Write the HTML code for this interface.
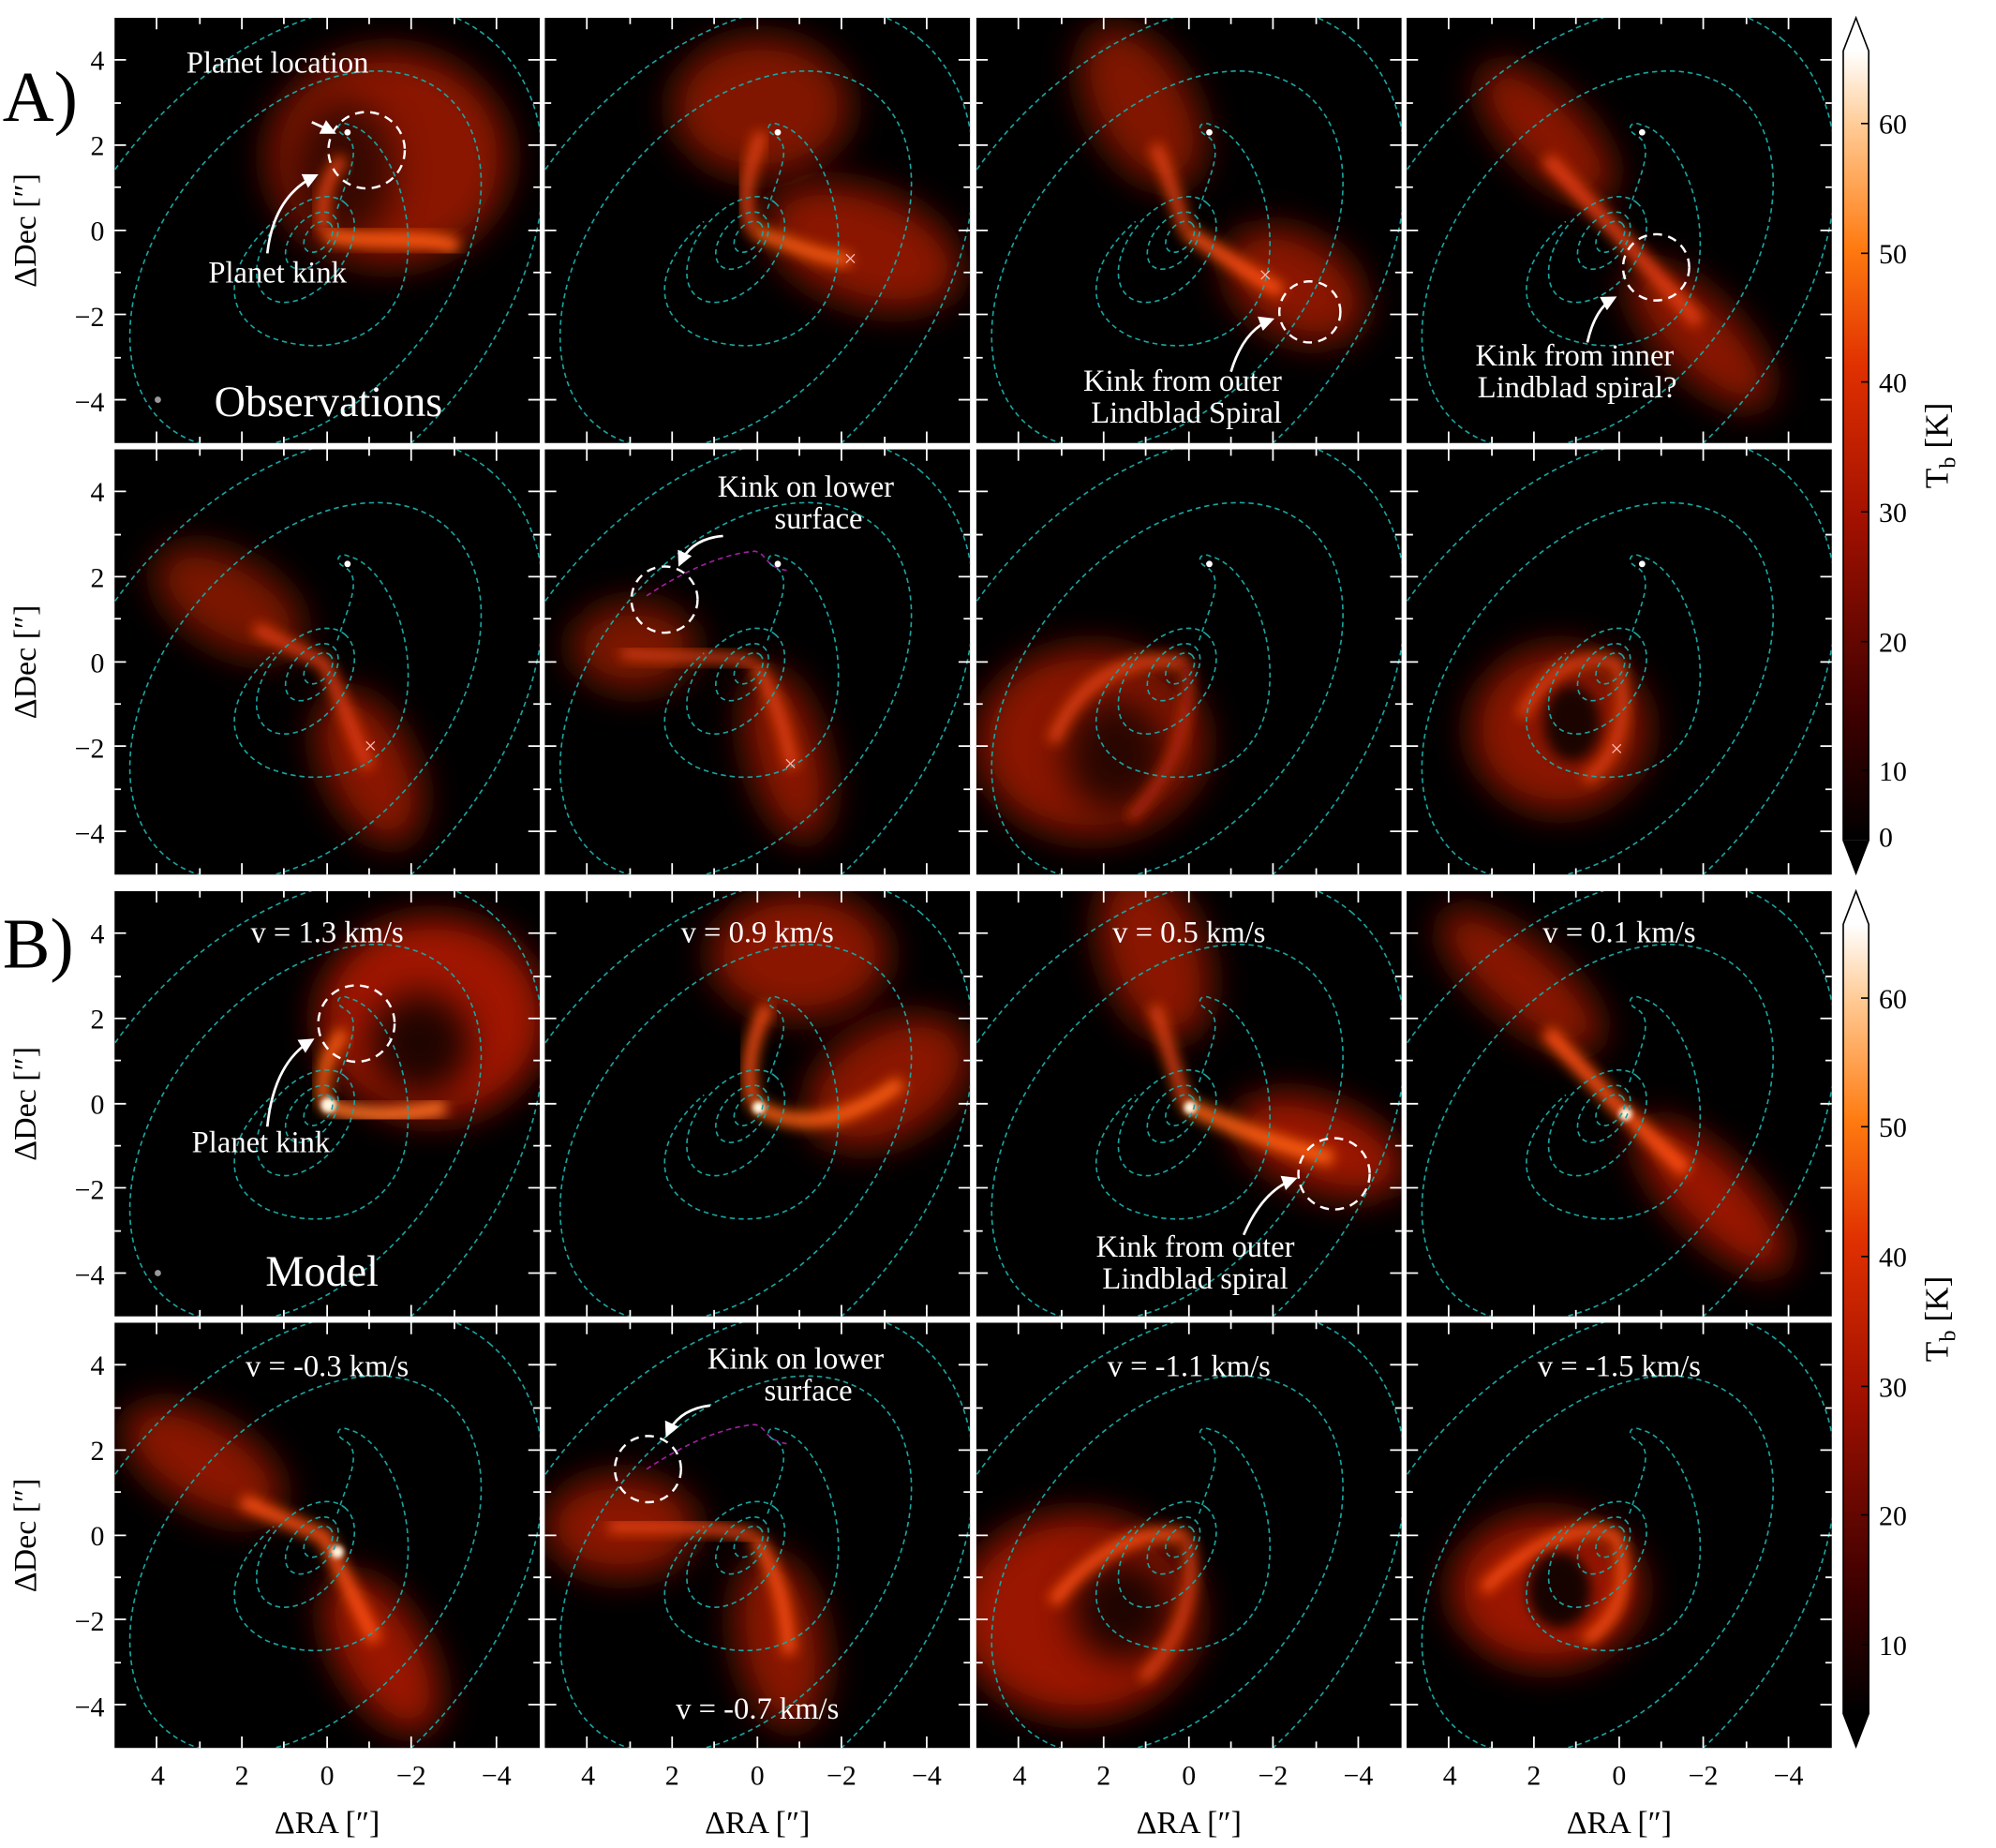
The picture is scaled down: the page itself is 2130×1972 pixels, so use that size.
<!DOCTYPE html>
<html><head><meta charset="utf-8"><style>
html,body{margin:0;padding:0;background:#fff;width:2130px;height:1972px;overflow:hidden}
svg{display:block}
text{font-family:"Liberation Serif","DejaVu Serif",serif;}
</style></head><body>
<svg width="2130" height="1972" viewBox="0 0 1568 1451.6" preserveAspectRatio="none" xmlns="http://www.w3.org/2000/svg">
<defs>
<filter id="b1" x="-50%" y="-50%" width="200%" height="200%"><feGaussianBlur stdDeviation="14"/></filter>
<filter id="b2" x="-50%" y="-50%" width="200%" height="200%"><feGaussianBlur stdDeviation="5"/></filter>
<filter id="b3" x="-50%" y="-50%" width="200%" height="200%"><feGaussianBlur stdDeviation="2"/></filter>
<clipPath id="pc"><rect x="0" y="0" width="334" height="334"/></clipPath>
<marker id="ah" viewBox="0 0 10 10" refX="8" refY="5" markerWidth="6" markerHeight="6" orient="auto"><path d="M0,0 L10,5 L0,10 Z" fill="#fff"/></marker>
<linearGradient id="cb" x1="0" y1="1" x2="0" y2="0">
<stop offset="0" stop-color="#000"/><stop offset="0.15" stop-color="#3a0000"/><stop offset="0.4" stop-color="#a01000"/>
<stop offset="0.6" stop-color="#e03000"/><stop offset="0.75" stop-color="#ff7a10"/><stop offset="0.9" stop-color="#ffc890"/><stop offset="1" stop-color="#fff"/>
</linearGradient>
<g id="cont" fill="none" stroke="#1aa5a0" stroke-width="1.2" stroke-dasharray="4,3">
<ellipse cx="160" cy="172" rx="14" ry="9" transform="rotate(-50 160 172)"/>
<ellipse cx="155" cy="175" rx="26" ry="16" transform="rotate(-50 155 175)"/>
<ellipse cx="150" cy="182" rx="48" ry="30" transform="rotate(-50 150 182)"/>
<path d="M175,150 C185,120 195,100 180,92 C172,88 176,80 184,84 C210,90 235,140 230,190 C225,250 170,270 120,250 C80,230 90,190 125,160"/>
<ellipse cx="150" cy="190" rx="170" ry="110" transform="rotate(-50 150 190)"/>
<ellipse cx="140" cy="200" rx="240" ry="160" transform="rotate(-50 140 200)"/>
</g>
<g id="ticks" stroke="#fff" stroke-width="1.3">
<path d="M33,0v9M100,0v9M167,0v9M233,0v9M300,0v9M67,0v5M133,0v5M200,0v5M267,0v5
M33,334v-9M100,334v-9M167,334v-9M233,334v-9M300,334v-9M67,334v-5M133,334v-5M200,334v-5M267,334v-5
M0,33h9M0,100h9M0,167h9M0,233h9M0,300h9M0,67h5M0,133h5M0,200h5M0,267h5
M334,33h-9M334,100h-9M334,167h-9M334,233h-9M334,300h-9M334,67h-5M334,133h-5M334,200h-5M334,267h-5"/>
</g>
</defs>

<g transform="translate(90,14)"><rect width="334" height="334" fill="#000"/><g clip-path="url(#pc)">
<ellipse cx="215" cy="110" rx="95" ry="85" fill="#8a1400" filter="url(#b1)"/>
<ellipse cx="180" cy="120" rx="40" ry="55" fill="#000" filter="url(#b1)" opacity="0.6"/>
<path d="M165,170 C200,178 240,170 270,180" stroke="#ff5a10" stroke-width="12" fill="none" filter="url(#b2)"/>
<path d="M165,168 C160,140 170,120 180,110" stroke="#e04010" stroke-width="10" fill="none" filter="url(#b2)"/>
<use href="#cont"/></g><use href="#ticks"/>
<circle cx="183" cy="90" r="2.5" fill="#fff"/><circle cx="34" cy="300" r="2.5" fill="#999"/>
<circle cx="198" cy="104" r="30" fill="none" stroke="#fff" stroke-width="1.8" stroke-dasharray="7,5"/>
<path d="M155,82 Q166,87 172,90" stroke="#fff" stroke-width="2" fill="none" marker-end="url(#ah)"/>
<path d="M120,185 Q125,140 158,124" stroke="#fff" stroke-width="2" fill="none" marker-end="url(#ah)"/>
<text x="128" y="43" fill="#fff" font-size="24" text-anchor="middle">Planet location</text>
<text x="128" y="208" fill="#fff" font-size="24" text-anchor="middle">Planet kink</text>
<text x="168" y="313" fill="#fff" font-size="34" text-anchor="middle">Observations</text></g>

<g transform="translate(428,14)"><rect width="334" height="334" fill="#000"/><g clip-path="url(#pc)">
<ellipse cx="170" cy="70" rx="70" ry="55" fill="#801200" filter="url(#b1)"/>
<ellipse cx="250" cy="180" rx="80" ry="45" fill="#8a1400" filter="url(#b1)" transform="rotate(20 250 180)"/>
<path d="M165,168 C150,140 165,110 170,90" stroke="#e04010" stroke-width="10" fill="none" filter="url(#b2)"/>
<path d="M165,168 C200,180 220,190 240,190" stroke="#ff6010" stroke-width="10" fill="none" filter="url(#b2)"/>
<use href="#cont"/></g><use href="#ticks"/>
<circle cx="183" cy="90" r="2.5" fill="#fff"/><text x="240" y="195" fill="#fbb" font-size="18" text-anchor="middle">×</text></g>

<g transform="translate(767,14)"><rect width="334" height="334" fill="#000"/><g clip-path="url(#pc)">
<ellipse cx="130" cy="70" rx="40" ry="70" fill="#801200" filter="url(#b1)" transform="rotate(-30 130 70)"/>
<ellipse cx="250" cy="210" rx="60" ry="40" fill="#8a1400" filter="url(#b1)" transform="rotate(30 250 210)"/>
<path d="M165,168 C155,140 150,120 140,100" stroke="#e04010" stroke-width="10" fill="none" filter="url(#b2)"/>
<path d="M165,168 C200,190 220,205 240,215" stroke="#ff5010" stroke-width="11" fill="none" filter="url(#b2)"/>
<use href="#cont"/></g><use href="#ticks"/>
<circle cx="183" cy="90" r="2.5" fill="#fff"/><text x="227" y="208" fill="#fbb" font-size="18" text-anchor="middle">×</text>
<circle cx="262" cy="231" r="24" fill="none" stroke="#fff" stroke-width="1.8" stroke-dasharray="7,5"/>
<path d="M200,278 Q210,245 232,237" stroke="#fff" stroke-width="2" fill="none" marker-end="url(#ah)"/>
<text x="162" y="293" fill="#fff" font-size="24" text-anchor="middle">Kink from outer</text>
<text x="165" y="318" fill="#fff" font-size="24" text-anchor="middle">Lindblad Spiral</text></g>

<g transform="translate(1105,14)"><rect width="334" height="334" fill="#000"/><g clip-path="url(#pc)">
<ellipse cx="110" cy="90" rx="30" ry="70" fill="#8a1400" filter="url(#b1)" transform="rotate(-45 110 90)"/>
<ellipse cx="230" cy="250" rx="30" ry="75" fill="#8a1400" filter="url(#b1)" transform="rotate(-45 230 250)"/>
<path d="M110,110 L165,168 L230,240" stroke="#e03a10" stroke-width="12" fill="none" filter="url(#b2)"/>
<use href="#cont"/></g><use href="#ticks"/>
<circle cx="185" cy="90" r="2.5" fill="#fff"/>
<circle cx="196" cy="196" r="26" fill="none" stroke="#fff" stroke-width="1.8" stroke-dasharray="7,5"/>
<path d="M142,255 Q148,228 163,220" stroke="#fff" stroke-width="2" fill="none" marker-end="url(#ah)"/>
<text x="132" y="273" fill="#fff" font-size="24" text-anchor="middle">Kink from inner</text>
<text x="134" y="298" fill="#fff" font-size="24" text-anchor="middle">Lindblad spiral?</text></g>

<g transform="translate(90,353)"><rect width="334" height="334" fill="#000"/><g clip-path="url(#pc)">
<ellipse cx="90" cy="120" rx="35" ry="65" fill="#7a1200" filter="url(#b1)" transform="rotate(-60 90 120)"/>
<ellipse cx="200" cy="250" rx="35" ry="65" fill="#8a1400" filter="url(#b1)" transform="rotate(-25 200 250)"/>
<path d="M110,140 L165,168 C180,200 190,230 200,250" stroke="#e03a10" stroke-width="10" fill="none" filter="url(#b2)"/>
<use href="#cont"/></g><use href="#ticks"/>
<circle cx="183" cy="90" r="2.5" fill="#fff"/><text x="201" y="239" fill="#fbb" font-size="18" text-anchor="middle">×</text></g>

<g transform="translate(428,353)"><rect width="334" height="334" fill="#000"/><g clip-path="url(#pc)">
<ellipse cx="70" cy="155" rx="50" ry="35" fill="#7a1200" filter="url(#b1)"/>
<ellipse cx="190" cy="240" rx="30" ry="70" fill="#8a1400" filter="url(#b1)" transform="rotate(-15 190 240)"/>
<path d="M60,160 C110,165 140,160 165,168" stroke="#d03a10" stroke-width="9" fill="none" filter="url(#b2)"/>
<path d="M165,168 C185,200 190,230 195,250" stroke="#e04010" stroke-width="10" fill="none" filter="url(#b2)"/>
<path d="M80,115 C110,95 140,82 165,80 C175,82 172,92 190,95" stroke="#a020a0" stroke-width="1.2" stroke-dasharray="4,3" fill="none"/>
<use href="#cont"/></g><use href="#ticks"/>
<circle cx="183" cy="90" r="2.5" fill="#fff"/><text x="193" y="253" fill="#fbb" font-size="18" text-anchor="middle">×</text>
<circle cx="94" cy="118" r="26" fill="none" stroke="#fff" stroke-width="1.8" stroke-dasharray="7,5"/>
<path d="M140,68 Q115,70 106,90" stroke="#fff" stroke-width="2" fill="none" marker-end="url(#ah)"/>
<text x="205" y="37" fill="#fff" font-size="24" text-anchor="middle">Kink on lower</text>
<text x="215" y="62" fill="#fff" font-size="24" text-anchor="middle">surface</text></g>

<g transform="translate(767,353)"><rect width="334" height="334" fill="#000"/><g clip-path="url(#pc)">
<ellipse cx="90" cy="230" rx="90" ry="75" fill="#8a1400" filter="url(#b1)"/>
<ellipse cx="110" cy="240" rx="40" ry="45" fill="#000" filter="url(#b1)" opacity="0.7"/>
<path d="M60,230 C80,180 120,160 165,168" stroke="#e04010" stroke-width="10" fill="none" filter="url(#b2)"/>
<path d="M165,168 C170,220 150,260 120,290" stroke="#c02a08" stroke-width="8" fill="none" filter="url(#b2)"/>
<use href="#cont"/></g><use href="#ticks"/>
<circle cx="183" cy="90" r="2.5" fill="#fff"/></g>

<g transform="translate(1105,353)"><rect width="334" height="334" fill="#000"/><g clip-path="url(#pc)">
<ellipse cx="120" cy="220" rx="70" ry="65" fill="#8a1400" filter="url(#b1)"/>
<path d="M90,210 C110,170 140,160 165,168 C175,200 170,240 140,260" stroke="#e04010" stroke-width="9" fill="none" filter="url(#b2)"/>
<ellipse cx="130" cy="215" rx="22" ry="30" fill="#000" filter="url(#b2)" opacity="0.8"/>
<use href="#cont"/></g><use href="#ticks"/>
<circle cx="185" cy="90" r="2.5" fill="#fff"/><text x="165" y="241" fill="#fbb" font-size="18" text-anchor="middle">×</text></g>

<g transform="translate(90,700)"><rect width="334" height="334" fill="#000"/><g clip-path="url(#pc)">
<ellipse cx="250" cy="100" rx="90" ry="80" fill="#a01800" filter="url(#b1)"/>
<ellipse cx="240" cy="120" rx="40" ry="40" fill="#000" filter="url(#b1)" opacity="0.8"/>
<path d="M165,168 C200,180 230,175 260,170" stroke="#ff7020" stroke-width="12" fill="none" filter="url(#b2)"/>
<path d="M165,168 C160,140 170,125 180,110" stroke="#ff6010" stroke-width="10" fill="none" filter="url(#b2)"/>
<circle cx="168" cy="168" r="6" fill="#fff6e0" filter="url(#b3)"/>
<use href="#cont"/></g><use href="#ticks"/>
<circle cx="34" cy="300" r="2.5" fill="#999"/>
<circle cx="190" cy="104" r="30" fill="none" stroke="#fff" stroke-width="1.8" stroke-dasharray="7,5"/>
<path d="M120,185 Q125,135 155,117" stroke="#fff" stroke-width="2" fill="none" marker-end="url(#ah)"/>
<text x="167" y="40" fill="#fff" font-size="24" text-anchor="middle">v = 1.3 km/s</text>
<text x="115" y="205" fill="#fff" font-size="24" text-anchor="middle">Planet kink</text>
<text x="163" y="310" fill="#fff" font-size="34" text-anchor="middle">Model</text></g>

<g transform="translate(428,700)"><rect width="334" height="334" fill="#000"/><g clip-path="url(#pc)">
<ellipse cx="200" cy="50" rx="70" ry="50" fill="#8a1400" filter="url(#b1)"/>
<ellipse cx="270" cy="150" rx="70" ry="45" fill="#8a1400" filter="url(#b1)" transform="rotate(-30 270 150)"/>
<path d="M165,168 C155,140 165,110 175,90" stroke="#ff5010" stroke-width="10" fill="none" filter="url(#b2)"/>
<path d="M165,168 C200,190 240,180 280,150" stroke="#ff6010" stroke-width="11" fill="none" filter="url(#b2)"/>
<circle cx="168" cy="170" r="5" fill="#fff6e0" filter="url(#b3)"/>
<use href="#cont"/></g><use href="#ticks"/>
<text x="167" y="40" fill="#fff" font-size="24" text-anchor="middle">v = 0.9 km/s</text></g>

<g transform="translate(767,700)"><rect width="334" height="334" fill="#000"/><g clip-path="url(#pc)">
<ellipse cx="140" cy="50" rx="40" ry="70" fill="#8a1400" filter="url(#b1)" transform="rotate(-20 140 50)"/>
<ellipse cx="270" cy="200" rx="70" ry="35" fill="#9a1600" filter="url(#b1)" transform="rotate(20 270 200)"/>
<path d="M165,168 C155,140 150,120 140,90" stroke="#e04010" stroke-width="10" fill="none" filter="url(#b2)"/>
<path d="M165,168 C200,185 240,200 280,210" stroke="#ff6010" stroke-width="12" fill="none" filter="url(#b2)"/>
<circle cx="168" cy="170" r="5" fill="#fff6e0" filter="url(#b3)"/>
<use href="#cont"/></g><use href="#ticks"/>
<circle cx="281" cy="222" r="28" fill="none" stroke="#fff" stroke-width="1.8" stroke-dasharray="7,5"/>
<path d="M210,270 Q225,235 250,226" stroke="#fff" stroke-width="2" fill="none" marker-end="url(#ah)"/>
<text x="167" y="40" fill="#fff" font-size="24" text-anchor="middle">v = 0.5 km/s</text>
<text x="172" y="287" fill="#fff" font-size="24" text-anchor="middle">Kink from outer</text>
<text x="172" y="312" fill="#fff" font-size="24" text-anchor="middle">Lindblad spiral</text></g>

<g transform="translate(1105,700)"><rect width="334" height="334" fill="#000"/><g clip-path="url(#pc)">
<ellipse cx="90" cy="70" rx="30" ry="80" fill="#8a1400" filter="url(#b1)" transform="rotate(-50 90 70)"/>
<ellipse cx="240" cy="240" rx="30" ry="80" fill="#9a1600" filter="url(#b1)" transform="rotate(-45 240 240)"/>
<path d="M110,110 L165,168 L220,220" stroke="#ff5010" stroke-width="12" fill="none" filter="url(#b2)"/>
<circle cx="172" cy="175" r="5" fill="#fff6e0" filter="url(#b3)"/>
<use href="#cont"/></g><use href="#ticks"/>
<text x="167" y="40" fill="#fff" font-size="24" text-anchor="middle">v = 0.1 km/s</text></g>

<g transform="translate(90,1039)"><rect width="334" height="334" fill="#000"/><g clip-path="url(#pc)">
<ellipse cx="70" cy="110" rx="35" ry="70" fill="#8a1400" filter="url(#b1)" transform="rotate(-60 70 110)"/>
<ellipse cx="210" cy="260" rx="35" ry="70" fill="#9a1600" filter="url(#b1)" transform="rotate(-30 210 260)"/>
<path d="M100,140 L165,168 C180,200 195,230 205,250" stroke="#ff5010" stroke-width="11" fill="none" filter="url(#b2)"/>
<circle cx="175" cy="180" r="5" fill="#fff6e0" filter="url(#b3)"/>
<use href="#cont"/></g><use href="#ticks"/>
<text x="167" y="42" fill="#fff" font-size="24" text-anchor="middle">v = -0.3 km/s</text></g>

<g transform="translate(428,1039)"><rect width="334" height="334" fill="#000"/><g clip-path="url(#pc)">
<ellipse cx="60" cy="160" rx="60" ry="40" fill="#8a1400" filter="url(#b1)"/>
<ellipse cx="185" cy="250" rx="35" ry="70" fill="#8a1400" filter="url(#b1)" transform="rotate(-10 185 250)"/>
<path d="M50,160 C110,160 140,160 165,168" stroke="#e04010" stroke-width="10" fill="none" filter="url(#b2)"/>
<path d="M165,168 C185,200 190,230 192,260" stroke="#ff5010" stroke-width="10" fill="none" filter="url(#b2)"/>
<path d="M80,115 C110,95 140,82 165,80 C175,82 172,92 190,95" stroke="#a020a0" stroke-width="1.2" stroke-dasharray="4,3" fill="none"/>
<use href="#cont"/></g><use href="#ticks"/>
<circle cx="81" cy="115" r="26" fill="none" stroke="#fff" stroke-width="1.8" stroke-dasharray="7,5"/>
<path d="M130,65 Q105,68 96,88" stroke="#fff" stroke-width="2" fill="none" marker-end="url(#ah)"/>
<text x="197" y="36" fill="#fff" font-size="24" text-anchor="middle">Kink on lower</text>
<text x="207" y="61" fill="#fff" font-size="24" text-anchor="middle">surface</text>
<text x="167" y="311" fill="#fff" font-size="24" text-anchor="middle">v = -0.7 km/s</text></g>

<g transform="translate(767,1039)"><rect width="334" height="334" fill="#000"/><g clip-path="url(#pc)">
<ellipse cx="80" cy="230" rx="95" ry="80" fill="#9a1600" filter="url(#b1)"/>
<ellipse cx="115" cy="225" rx="40" ry="40" fill="#000" filter="url(#b1)" opacity="0.8"/>
<path d="M60,220 C90,180 130,160 165,168" stroke="#ff5010" stroke-width="10" fill="none" filter="url(#b2)"/>
<path d="M165,168 C175,210 160,250 130,280" stroke="#e04010" stroke-width="9" fill="none" filter="url(#b2)"/>
<use href="#cont"/></g><use href="#ticks"/>
<text x="167" y="42" fill="#fff" font-size="24" text-anchor="middle">v = -1.1 km/s</text></g>

<g transform="translate(1105,1039)"><rect width="334" height="334" fill="#000"/><g clip-path="url(#pc)">
<ellipse cx="110" cy="210" rx="75" ry="60" fill="#9a1600" filter="url(#b1)"/>
<path d="M60,210 C100,170 140,155 165,168 C175,200 170,230 140,250" stroke="#ff5010" stroke-width="9" fill="none" filter="url(#b2)"/>
<ellipse cx="120" cy="210" rx="25" ry="30" fill="#000" filter="url(#b2)" opacity="0.85"/>
<use href="#cont"/></g><use href="#ticks"/>
<text x="167" y="42" fill="#fff" font-size="24" text-anchor="middle">v = -1.5 km/s</text></g>

<text x="2" y="95" font-size="56" fill="#000">A)</text>
<text x="2" y="760" font-size="56" fill="#000">B)</text>

<g font-size="22" fill="#000" text-anchor="end">
<text x="82" y="55">4</text><text x="82" y="122">2</text><text x="82" y="189">0</text><text x="82" y="256">−2</text><text x="82" y="323">−4</text>
<text x="82" y="394">4</text><text x="82" y="461">2</text><text x="82" y="528">0</text><text x="82" y="595">−2</text><text x="82" y="662">−4</text>
<text x="82" y="741">4</text><text x="82" y="808">2</text><text x="82" y="875">0</text><text x="82" y="942">−2</text><text x="82" y="1009">−4</text>
<text x="82" y="1080">4</text><text x="82" y="1147">2</text><text x="82" y="1214">0</text><text x="82" y="1281">−2</text><text x="82" y="1348">−4</text>
</g>
<g font-size="25" fill="#000" text-anchor="middle">
<text transform="translate(28,181) rotate(-90)">ΔDec [″]</text>
<text transform="translate(28,520) rotate(-90)">ΔDec [″]</text>
<text transform="translate(28,867) rotate(-90)">ΔDec [″]</text>
<text transform="translate(28,1206) rotate(-90)">ΔDec [″]</text>
</g>
<g font-size="22" fill="#000" text-anchor="middle">
<text x="124" y="1402">4</text><text x="190" y="1402">2</text><text x="257" y="1402">0</text><text x="323" y="1402">−2</text><text x="390" y="1402">−4</text>
<text x="462" y="1402">4</text><text x="528" y="1402">2</text><text x="595" y="1402">0</text><text x="661" y="1402">−2</text><text x="728" y="1402">−4</text>
<text x="801" y="1402">4</text><text x="867" y="1402">2</text><text x="934" y="1402">0</text><text x="1000" y="1402">−2</text><text x="1067" y="1402">−4</text>
<text x="1139" y="1402">4</text><text x="1205" y="1402">2</text><text x="1272" y="1402">0</text><text x="1338" y="1402">−2</text><text x="1405" y="1402">−4</text>
</g>
<g font-size="25" fill="#000" text-anchor="middle">
<text x="257" y="1440">ΔRA [″]</text><text x="595" y="1440">ΔRA [″]</text><text x="934" y="1440">ΔRA [″]</text><text x="1272" y="1440">ΔRA [″]</text>
</g>

<g>
<rect x="1448" y="40" width="20" height="620" fill="url(#cb)"/>
<path d="M1448,40 L1458,14 L1468,40 Z" fill="#fff"/>
<path d="M1448,660 L1458,686 L1468,660 Z" fill="#000"/>
<path d="M1448,40 L1458,14 L1468,40 V660 L1458,686 L1448,660 Z" fill="none" stroke="#000" stroke-width="1.2"/>
<g stroke="#000" stroke-width="1.2"><path d="M1468,97h-6M1468,199h-6M1468,300h-6M1468,402h-6M1468,504h-6M1468,605h-6M1468,657h-6"/></g>
<g font-size="22" fill="#000"><text x="1476" y="105">60</text><text x="1476" y="207">50</text><text x="1476" y="308">40</text><text x="1476" y="410">30</text><text x="1476" y="512">20</text><text x="1476" y="613">10</text><text x="1476" y="665">0</text></g>
<text transform="translate(1530,350) rotate(-90)" font-size="26" text-anchor="middle">T<tspan font-size="18" dy="6">b</tspan><tspan dy="-6"> [K]</tspan></text>
</g>
<g>
<rect x="1448" y="726" width="20" height="620" fill="url(#cb)"/>
<path d="M1448,726 L1458,700 L1468,726 Z" fill="#fff"/>
<path d="M1448,1346 L1458,1372 L1468,1346 Z" fill="#000"/>
<path d="M1448,726 L1458,700 L1468,726 V1346 L1458,1372 L1448,1346 Z" fill="none" stroke="#000" stroke-width="1.2"/>
<g stroke="#000" stroke-width="1.2"><path d="M1468,784h-6M1468,885h-6M1468,987h-6M1468,1089h-6M1468,1190h-6M1468,1292h-6"/></g>
<g font-size="22" fill="#000"><text x="1476" y="792">60</text><text x="1476" y="893">50</text><text x="1476" y="995">40</text><text x="1476" y="1097">30</text><text x="1476" y="1198">20</text><text x="1476" y="1300">10</text></g>
<text transform="translate(1530,1036) rotate(-90)" font-size="26" text-anchor="middle">T<tspan font-size="18" dy="6">b</tspan><tspan dy="-6"> [K]</tspan></text>
</g>
</svg>
</body></html>
